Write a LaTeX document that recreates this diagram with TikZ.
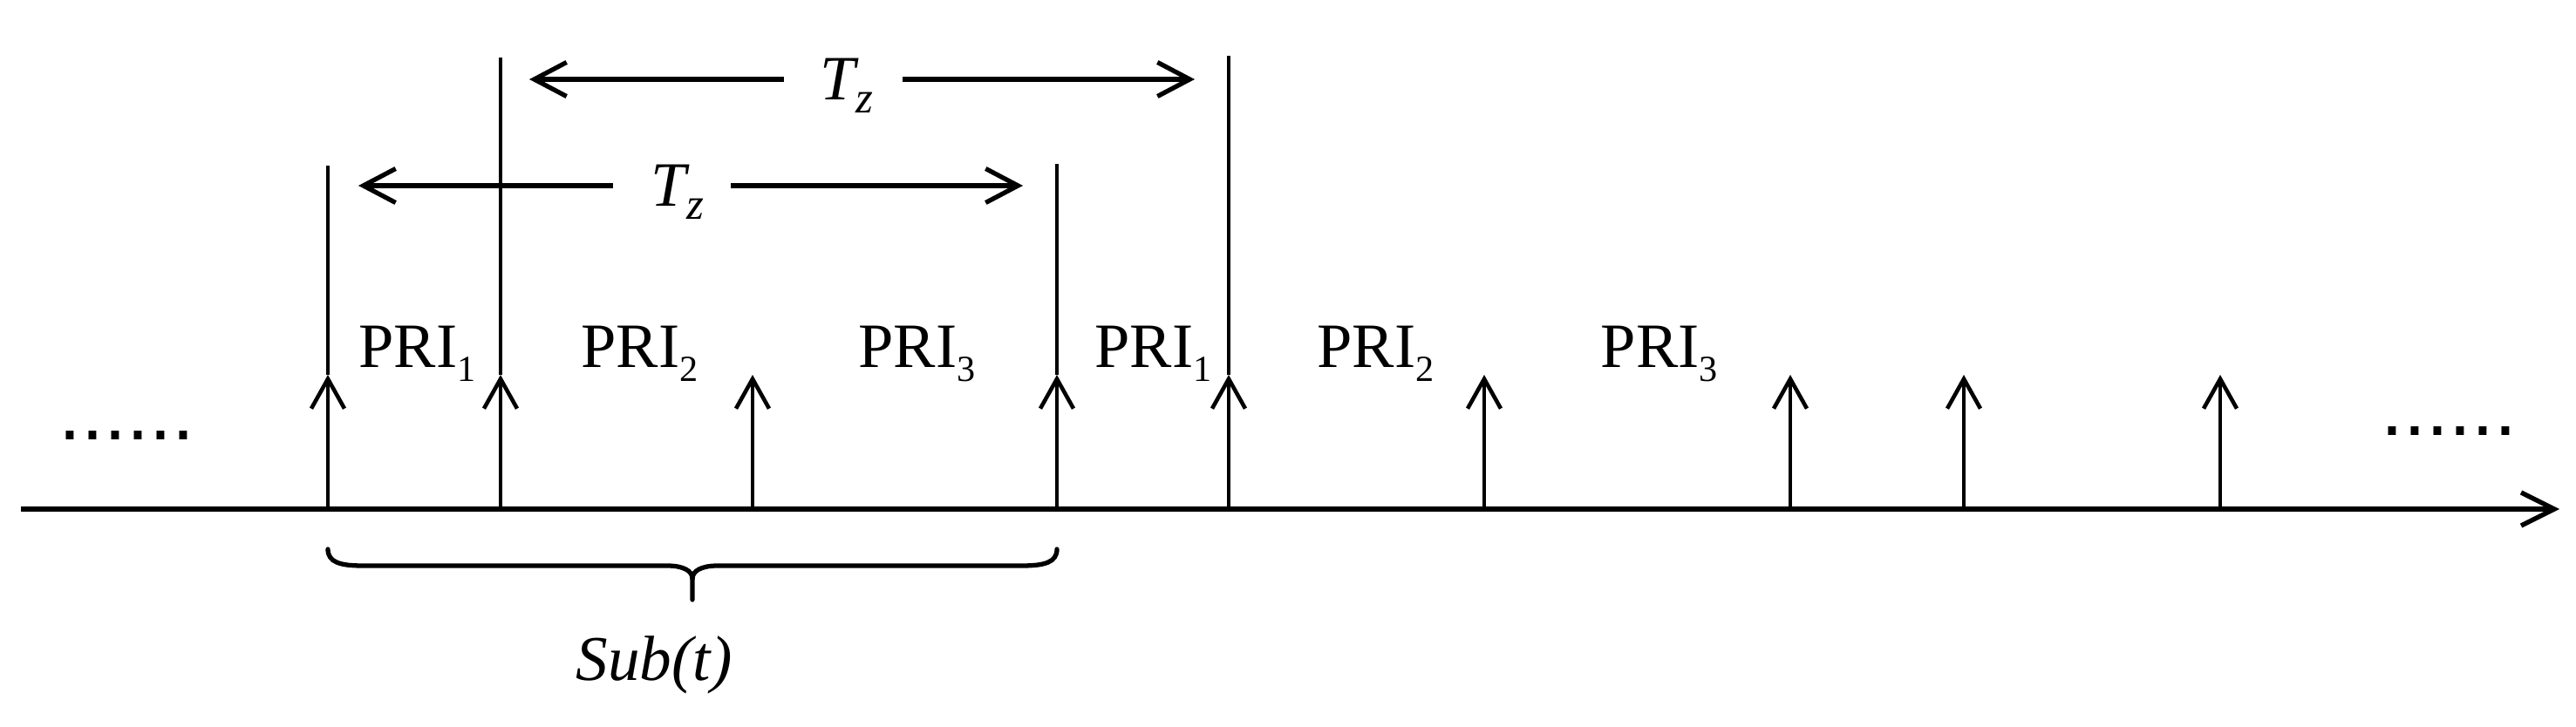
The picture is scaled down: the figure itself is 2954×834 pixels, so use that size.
\documentclass[tikz,border=0pt]{standalone}
\usepackage{fontspec}
\setmainfont{Liberation Serif}
\newfontfamily\dotfont{Liberation Sans}
\usetikzlibrary{arrows.meta}
\newcommand\lowsub[1]{\raisebox{-4.3pt}{\fontsize{12}{12}\selectfont #1}}
\newcommand\lowz{\raisebox{-4pt}{\fontsize{14.5}{14.5}\selectfont\itshape z}}
\tikzset{
  axisline/.style={line width=1.6pt,-{Straight Barb[length=0.38cm,width=0.38cm,line width=1.5pt]}},
  pulse/.style={line width=1.3pt,-{Straight Barb[length=0.34cm,width=0.38cm,line width=1.3pt]}},
  tallline/.style={line width=1.3pt},
  tzarrow/.style={line width=1.55pt,-{Straight Barb[length=0.37cm,width=0.39cm,line width=1.5pt]}},
  bracestyle/.style={line width=1.5pt,line cap=round},
  lbl/.style={font=\fontsize{20.6}{24}\selectfont,inner sep=0pt,anchor=base west},
  dots/.style={font=\dotfont\fontsize{26.5}{28}\selectfont,inner sep=0pt,anchor=base west}
}
\begin{document}
\begin{tikzpicture}[x=0.01cm,y=-0.01cm]
\useasboundingbox (0,0) rectangle (2954,834);
% axis
\coordinate (axL) at (24,584);
\coordinate (axR) at (2935,584);
\draw[axisline] (axL) -- (axR);
% pulses
\foreach \n/\x in {p1/376,p2/574,p3/863,p4/1212,p5/1409,p6/1702,p7/2053,p8/2252,p9/2546}{
  \coordinate (\n b) at (\x,584);
  \coordinate (\n t) at (\x,430);
  \draw[pulse] (\n b) -- (\n t);
}
% tall lines
\coordinate (h1) at (376,190);
\coordinate (h2) at (574,66);
\coordinate (h4) at (1212,188);
\coordinate (h5) at (1409,64);
\draw[tallline] (p1t) -- (h1);
\draw[tallline] (p2t) -- (h2);
\draw[tallline] (p4t) -- (h4);
\draw[tallline] (p5t) -- (h5);
% upper Tz
\node[lbl] (tz1) at (940,115) {\itshape T\lowz};
\coordinate (u1) at (899,91);
\coordinate (u2) at (1035,91);
\coordinate (uL) at (607,91);
\coordinate (uR) at (1370,91);
\draw[tzarrow] (u1) -- (uL);
\draw[tzarrow] (u2) -- (uR);
% lower Tz
\node[lbl] (tz2) at (746,237) {\itshape T\lowz};
\coordinate (l1) at (703,213);
\coordinate (l2) at (838,213);
\coordinate (lL) at (411,213);
\coordinate (lR) at (1173,213);
\draw[tzarrow] (l1) -- (lL);
\draw[tzarrow] (l2) -- (lR);
% PRI labels
\node[lbl] (a1) at (411,422) {PRI\lowsub{1}};
\node[lbl] (a2) at (666,422) {PRI\lowsub{2}};
\node[lbl] (a3) at (984,422) {PRI\lowsub{3}};
\node[lbl] (a4) at (1255,422) {PRI\lowsub{1}};
\node[lbl] (a5) at (1510,422) {PRI\lowsub{2}};
\node[lbl] (a6) at (1835,422) {PRI\lowsub{3}};
% dots
\node[dots] (dl) at (67,505) {......};
\node[dots] (dr) at (2730,500) {......};
% brace
\coordinate (bL) at (376,630);
\coordinate (bR) at (1212,630);
\coordinate (bM) at (794,664);
\coordinate (bT) at (794,688);
\draw[bracestyle] (bL) .. controls (376,645) and (390,649) .. (416,649) -- (765,649) .. controls (784,649) and (794,655) .. (bM) -- (bT);
\draw[bracestyle] (bR) .. controls (1212,645) and (1198,649) .. (1172,649) -- (823,649) .. controls (804,649) and (794,655) .. (bM);
\node[lbl,font=\fontsize{20.8}{24}\selectfont\itshape] (sub) at (660,781) {Sub(t)};
\end{tikzpicture}
\end{document}
